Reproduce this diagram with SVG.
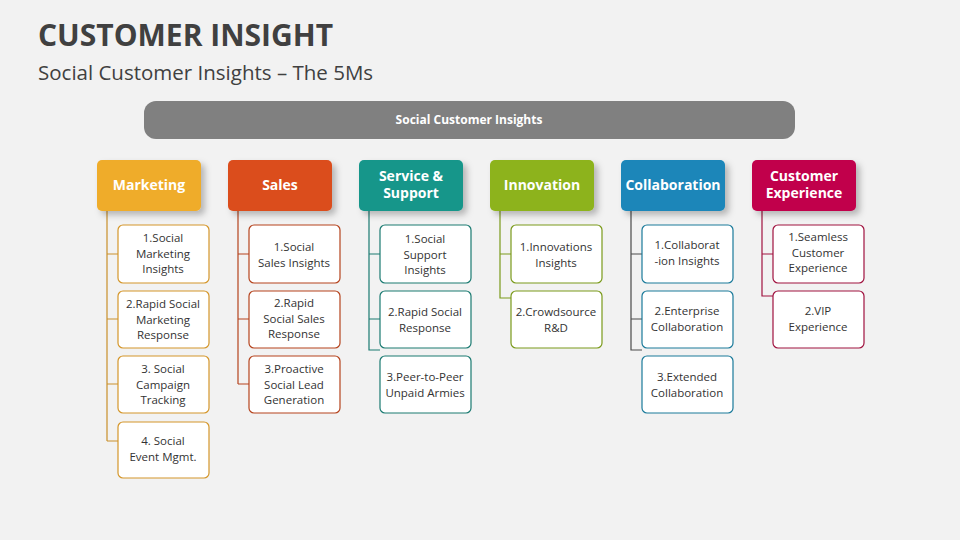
<svg xmlns="http://www.w3.org/2000/svg" width="960" height="540" viewBox="0 0 960 540">
<defs>
<filter id="sh" x="-10%" y="-10%" width="130%" height="140%"><feDropShadow dx="4" dy="4" stdDeviation="3" flood-color="#000" flood-opacity="0.25"/></filter>
<style>
text{font-family:"Open Sans","Liberation Sans",sans-serif}
.h{fill:#fff;font-weight:bold;font-size:14px;text-anchor:middle}
.c{fill:#333;font-size:11.5px;text-anchor:middle}
.b{fill:#fff;stroke-width:1.2}
.l{fill:none;stroke-width:1.2}
</style>
</defs>
<rect width="960" height="540" fill="#f2f2f2"/>
<text x="38" y="46" font-size="30" font-weight="bold" fill="#404040">CUSTOMER INSIGHT</text>
<text x="38" y="80" font-size="20.5" fill="#404040">Social Customer Insights – The 5Ms</text>
<g id="banner"><rect x="144" y="101" width="651" height="38" rx="12" fill="#808080"/><text x="469" y="124" font-size="12" font-weight="bold" fill="#fff" text-anchor="middle">Social Customer Insights</text></g>
<g id="connectors">
<path class="l" stroke="#c98f2a" d="M107 211V441M107 254H118M107 319H118M107 384H118M107 441H118"/>
<path class="l" stroke="#b5431d" d="M238 211V384M238 254H249M238 296V319H249M238 384H249"/>
<path class="l" stroke="#1a7a71" d="M369 211V350H380M369 254H380M369 319H380"/>
<path class="l" stroke="#7a9a1a" d="M500 211V298H511M500 254H511"/>
<path class="l" stroke="#4a4a4a" d="M631 211V350H642M631 254H642M631 319H642"/>
<path class="l" stroke="#a0123f" d="M762 211V296H773M762 254H773"/>
</g>
<g id="marketing"><rect x="97" y="160" width="104" height="51" rx="5" fill="#EFAC2A" filter="url(#sh)"/><text class="h" x="149" y="190">Marketing</text></g>
<g id="sales"><rect x="228" y="160" width="104" height="51" rx="5" fill="#DB4E1C" filter="url(#sh)"/><text class="h" x="280" y="190">Sales</text></g>
<g id="service"><rect x="359" y="160" width="104" height="51" rx="5" fill="#14968A" filter="url(#sh)"/><text class="h" x="411" y="181">Service &amp;</text><text class="h" x="411" y="198">Support</text></g>
<g id="innovation"><rect x="490" y="160" width="104" height="51" rx="5" fill="#8DB31A" filter="url(#sh)"/><text class="h" x="542" y="190">Innovation</text></g>
<g id="collaboration"><rect x="621" y="160" width="104" height="51" rx="5" fill="#1A86B9" filter="url(#sh)"/><text class="h" x="673" y="190">Collaboration</text></g>
<g id="customer"><rect x="752" y="160" width="104" height="51" rx="5" fill="#C1034B" filter="url(#sh)"/><text class="h" x="804" y="181">Customer</text><text class="h" x="804" y="198">Experience</text></g>

<g id="m1"><rect class="b" stroke="#d4962a" x="118" y="225" width="91" height="58" rx="5"/><text class="c" x="163" y="242">1.Social</text><text class="c" x="163" y="258">Marketing</text><text class="c" x="163" y="273">Insights</text></g>
<g id="m2"><rect class="b" stroke="#d4962a" x="118" y="291" width="91" height="57" rx="5"/><text class="c" x="163" y="308">2.Rapid Social</text><text class="c" x="163" y="324">Marketing</text><text class="c" x="163" y="339">Response</text></g>
<g id="m3"><rect class="b" stroke="#d4962a" x="118" y="356" width="91" height="57" rx="5"/><text class="c" x="163" y="373">3. Social</text><text class="c" x="163" y="389">Campaign</text><text class="c" x="163" y="404">Tracking</text></g>
<g id="m4"><rect class="b" stroke="#d4962a" x="118" y="422" width="91" height="56" rx="5"/><text class="c" x="163" y="445">4. Social</text><text class="c" x="163" y="461">Event Mgmt.</text></g>

<g id="s1"><rect class="b" stroke="#b5431d" x="249" y="225" width="91" height="58" rx="5"/><text class="c" x="294" y="251">1.Social</text><text class="c" x="294" y="267">Sales Insights</text></g>
<g id="s2"><rect class="b" stroke="#b5431d" x="249" y="291" width="91" height="57" rx="5"/><text class="c" x="294" y="307">2.Rapid</text><text class="c" x="294" y="323">Social Sales</text><text class="c" x="294" y="338">Response</text></g>
<g id="s3"><rect class="b" stroke="#b5431d" x="249" y="356" width="91" height="57" rx="5"/><text class="c" x="294" y="373">3.Proactive</text><text class="c" x="294" y="389">Social Lead</text><text class="c" x="294" y="404">Generation</text></g>

<g id="v1"><rect class="b" stroke="#1a7a71" x="380" y="225" width="91" height="58" rx="5"/><text class="c" x="425" y="243">1.Social</text><text class="c" x="425" y="259">Support</text><text class="c" x="425" y="274">Insights</text></g>
<g id="v2"><rect class="b" stroke="#1a7a71" x="380" y="291" width="91" height="57" rx="5"/><text class="c" x="425" y="316">2.Rapid Social</text><text class="c" x="425" y="332">Response</text></g>
<g id="v3"><rect class="b" stroke="#1a7a71" x="380" y="356" width="91" height="57" rx="5"/><text class="c" x="425" y="381">3.Peer-to-Peer</text><text class="c" x="425" y="397">Unpaid Armies</text></g>

<g id="i1"><rect class="b" stroke="#7a9a1a" x="511" y="225" width="91" height="58" rx="5"/><text class="c" x="556" y="251">1.Innovations</text><text class="c" x="556" y="267">Insights</text></g>
<g id="i2"><rect class="b" stroke="#7a9a1a" x="511" y="291" width="91" height="57" rx="5"/><text class="c" x="556" y="316">2.Crowdsource</text><text class="c" x="556" y="332">R&amp;D</text></g>

<g id="c1"><rect class="b" stroke="#1a7a9a" x="642" y="225" width="91" height="58" rx="5"/><text class="c" x="687" y="249">1.Collaborat</text><text class="c" x="687" y="265">-ion Insights</text></g>
<g id="c2"><rect class="b" stroke="#1a7a9a" x="642" y="291" width="91" height="57" rx="5"/><text class="c" x="687" y="315">2.Enterprise</text><text class="c" x="687" y="331">Collaboration</text></g>
<g id="c3"><rect class="b" stroke="#1a7a9a" x="642" y="356" width="91" height="57" rx="5"/><text class="c" x="687" y="381">3.Extended</text><text class="c" x="687" y="397">Collaboration</text></g>

<g id="x1"><rect class="b" stroke="#a0123f" x="773" y="225" width="91" height="58" rx="5"/><text class="c" x="818" y="241">1.Seamless</text><text class="c" x="818" y="257">Customer</text><text class="c" x="818" y="272">Experience</text></g>
<g id="x2"><rect class="b" stroke="#a0123f" x="773" y="291" width="91" height="57" rx="5"/><text class="c" x="818" y="315">2.VIP</text><text class="c" x="818" y="331">Experience</text></g>
</svg>
